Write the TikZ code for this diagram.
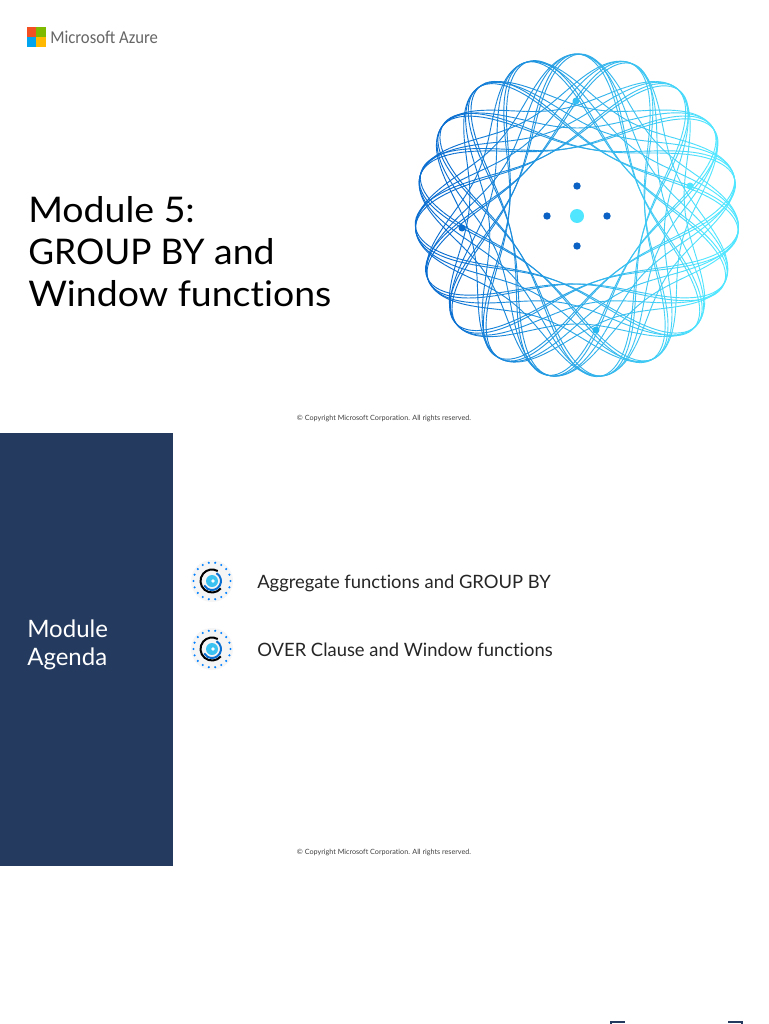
\documentclass[tikz,border=0pt]{standalone}
\usepackage{fontspec}
\setmainfont{Lato}[Ligatures=NoCommon]
\newfontfamily\titlefont{Lato}[Ligatures=NoCommon,FakeStretch=1.06]
\newfontfamily\agendafont{Lato}[Ligatures=NoCommon]
\newfontfamily\logofont{Carlito}[FakeStretch=0.92]
\definecolor{panel}{HTML}{243A5E}
\definecolor{curveL}{HTML}{0A6ED1}
\definecolor{curveR}{HTML}{50E6FF}
\definecolor{dotB}{HTML}{0B62C4}
\definecolor{grayT}{HTML}{666666}
\definecolor{msR}{HTML}{F25022}
\definecolor{msG}{HTML}{7FBA00}
\definecolor{msB}{HTML}{00A4EF}
\definecolor{msY}{HTML}{FFB900}
\tikzset{
 title/.style={anchor=west,inner sep=0pt,font=\titlefont\fontsize{26.5pt}{31.5pt}\selectfont,align=left,text=black},
 agenda/.style={anchor=west,inner sep=0pt,font=\agendafont\fontsize{13.8pt}{16pt}\selectfont,text=black!85},
 copyr/.style={inner sep=0pt,font=\fontsize{5.4pt}{6pt}\selectfont,text=black!75},
 lnk/.style={line width=.7pt},
}
% one closed rounded star: #1 a, #2 b, #3 c, #4 harmonic q-1, #5 harmonic q+1, #6 angle step, #7 rotation
\newcommand{\spiro}[7]{%
\foreach \i in {0,...,959}{
 \pgfmathsetmacro\ta{\i*#6}
 \pgfmathsetmacro\tb{\ta+#6}
 \pgfmathsetmacro\xa{#1*cos(\ta+#7)+#2*cos(-#4*\ta+#7)+#3*cos(#5*\ta+#7)}
 \pgfmathsetmacro\ya{#1*sin(\ta+#7)+#2*sin(-#4*\ta+#7)+#3*sin(#5*\ta+#7)}
 \pgfmathsetmacro\xb{#1*cos(\tb+#7)+#2*cos(-#4*\tb+#7)+#3*cos(#5*\tb+#7)}
 \pgfmathsetmacro\yb{#1*sin(\tb+#7)+#2*sin(-#4*\tb+#7)+#3*sin(#5*\tb+#7)}
 \pgfmathtruncatemacro\c{max(0,min(100,(\xa+130)/2.6))}
 \draw[lnk,color=curveR!\c!curveL] (\xa,\ya) -- (\xb,\yb);
}}
\newcommand{\agendaicon}[2]{%
 \begin{scope}[shift={(#1,#2)}]
  \fill[black!4] (0,0) circle (21);
  \foreach \a in {0,20,...,340} \fill[blue!50!cyan] (\a:18.5) circle (1.2);
  \draw[black,line width=1.5pt] (40:11.5) arc (40:300:11.5);
  \draw[curveL,line width=1.5pt] (300:9) arc (-60:150:9);
  \fill[curveR!70!curveL] (0,0) circle (6);
  \fill[white] (1,0) circle (1.8);
 \end{scope}}
\begin{document}
\begin{tikzpicture}[x=.75pt,y=-.75pt]
\useasboundingbox (0,0) rectangle (768,1024);
\fill[white] (0,0) rectangle (768,1024);
% logo
\fill[msR] (26.5,27.5) rectangle (35.5,37);
\fill[msG] (36,27.5) rectangle (45.5,37);
\fill[msB] (26.5,37.5) rectangle (35.5,47);
\fill[msY] (36,37.5) rectangle (45.5,47);
\node[anchor=west,inner sep=0pt,text=grayT,font=\logofont\fontsize{13.6pt}{15pt}\selectfont] (logo) at (50,37.5) {Microsoft Azure};
% spirograph
\begin{scope}[shift={(577,216)}]
\spiro{115}{38}{9}{1.7142857}{3.7142857}{2.625}{4.7}
\spiro{115}{38}{9}{1.7142857}{3.7142857}{2.625}{6.2}
\spiro{125}{28}{9}{2.1666667}{4.1666667}{2.25}{4.7}
\spiro{135}{20}{7}{2.8}{4.8}{1.875}{4.7}
\fill[curveR] (0,0) circle (7);
\foreach \p in {(30,0),(-30,0),(0,30),(0,-30)} \fill[dotB] \p circle (3.7);
\end{scope}
\fill[cyan!80!white] (576,101) circle (3.5);
\fill[curveR] (690,186) circle (3.5);
\fill[cyan!85!white] (596,330) circle (3.5);
\fill[curveL] (462,228) circle (3.5);
% title
\node[title] (t) at (28,252) {Module 5:\\{\agendafont GROUP BY} and\\Window functions};
\node[copyr] (c1) at (384,419) {© Copyright Microsoft Corporation. All rights reserved.};
% panel
\fill[panel] (0,433) rectangle (172.5,866);
\node[anchor=west,inner sep=0pt,text=white,align=left,font=\agendafont\fontsize{18pt}{21pt}\selectfont] (ma) at (27,645) {Module\\Agenda};
\agendaicon{212}{581}
\agendaicon{212}{649}
\node[agenda] (a1) at (257,583) {Aggregate functions and GROUP BY};
\node[agenda] (a2) at (257,650) {OVER Clause and Window functions};
\node[copyr] (c2) at (384,852) {© Copyright Microsoft Corporation. All rights reserved.};
% corner marks
\draw[panel,line width=.9pt] (611,1024) -- (611,1022) -- (625,1022);
\draw[panel,line width=.9pt] (728,1022) -- (742,1022) -- (742,1024);
\end{tikzpicture}
\end{document}
